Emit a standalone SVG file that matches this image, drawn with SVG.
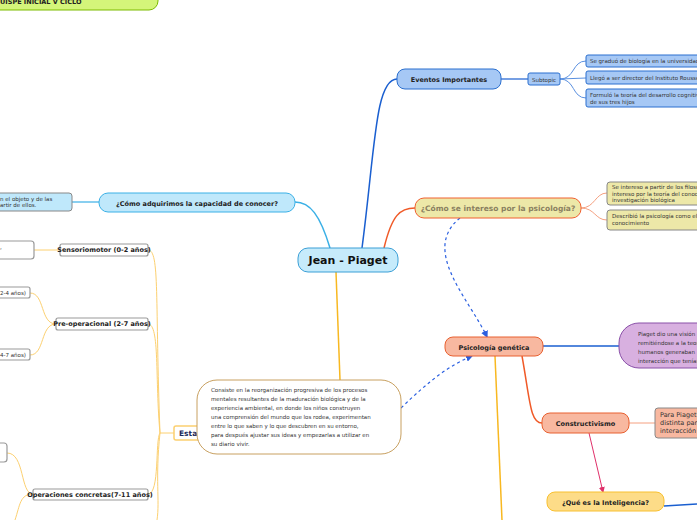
<svg xmlns="http://www.w3.org/2000/svg" width="697" height="520" viewBox="0 0 697 520">
<style>
text{font-family:"DejaVu Sans","Liberation Sans",sans-serif}
.b{font-weight:bold}
.s{font-size:5.5px;fill:#333}
.m{font-size:6.5px;fill:#222;font-weight:bold}
.w{fill:#fff;stroke:#999;stroke-width:1.2}
.c{fill:none}
</style>
<defs>
<marker id="a" markerWidth="6" markerHeight="6" refX="5" refY="3" orient="auto"><path d="M0,0L6,3L0,6z" fill="#2a5fe0"/></marker>
<marker id="p" markerWidth="6" markerHeight="6" refX="5" refY="3" orient="auto"><path d="M0,0L6,3L0,6z" fill="#e0306a"/></marker>
</defs>
<rect width="697" height="520" fill="#fff"/>
<g id="connectors" class="c">
<path d="M362,248C375,150 375,79 397,79" stroke="#1a5fd0" stroke-width="1.5"/>
<path d="M384,248C392,215 400,208 415,208" stroke="#f05a28" stroke-width="1.5"/>
<path d="M330,248C320,215 310,202 295,202" stroke="#3bb0e6" stroke-width="1.5"/>
<path d="M336,272L340,380" stroke="#f8b820" stroke-width="1.5"/>
<path d="M501,79L528,79" stroke="#1a5fd0" stroke-width="1.2"/>
<path d="M560,79C575,79 572,61 586,61M560,79L586,78M560,79C575,79 572,98 586,98" stroke="#5a90e0" stroke-width="1"/>
<path d="M581,208C595,208 595,193 607,193M581,208C595,208 595,220 607,220" stroke="#f5a080" stroke-width="1"/>
<path d="M99,202L72,202" stroke="#3bb0e6" stroke-width="1.2"/>
<path d="M460,218C420,250 470,300 487,337" stroke="#2a5fe0" stroke-width="1.2" stroke-dasharray="3,3" marker-end="url(#a)"/>
<path d="M401,408C430,380 450,365 472,356" stroke="#2a5fe0" stroke-width="1.2" stroke-dasharray="3,3" marker-end="url(#a)"/>
<path d="M543,346L619,346" stroke="#1a5fd0" stroke-width="1.5"/>
<path d="M522,356C530,400 530,423 542,423" stroke="#f05a28" stroke-width="1.5"/>
<path d="M495,356L502,520" stroke="#f8b820" stroke-width="1.5"/>
<path d="M629,423L655,423" stroke="#f5a080" stroke-width="1"/>
<path d="M589,433L603,492" stroke="#e0306a" stroke-width="1" marker-end="url(#p)"/>
<path d="M664,506L697,504" stroke="#1a5fd0" stroke-width="1.5"/>
<path d="M174,433L160,433M148,250C160,250 155,300 160,433M148,324C160,324 155,380 160,433M148,494C160,494 155,440 160,433M160,433C155,480 160,500 157,520" stroke="#fcd070" stroke-width="1"/>
<path d="M60,250L34,250M56,324C40,324 45,293 30,293M56,324C40,324 45,355 30,355M33,494C20,494 25,453 7,453M33,494C20,494 20,505 15,520" stroke="#fcd070" stroke-width="1"/>
</g>
<g id="n-top"><rect x="-10" y="-10" width="168" height="20" rx="9" fill="#d4f57a" stroke="#7cbb00"/><text x="0" y="4" class="m">UISPE INICIAL V CICLO</text></g>
<g id="n-jean"><rect x="298" y="248" width="100" height="24" rx="10" fill="#c6ebfb" stroke="#3b9fd6"/><text x="348" y="264" class="b" font-size="11" text-anchor="middle" fill="#111">Jean - Piaget</text></g>
<g id="n-eventos"><rect x="397" y="69" width="104" height="20" rx="8" fill="#a6c8f5" stroke="#2b6fcf"/><text x="449" y="82" class="m" text-anchor="middle" font-size="7.5">Eventos Importantes</text></g>
<g id="n-sub"><rect x="528" y="73" width="32" height="12" rx="2" fill="#a6c8f5" stroke="#2b6fcf"/><text x="544" y="81.5" class="s" text-anchor="middle" font-size="5.5">Subtopic</text></g>
<g id="n-e1"><rect x="586" y="55" width="120" height="12" rx="2" fill="#a6c8f5" stroke="#2b6fcf"/><text x="590" y="63" class="s">Se graduó de biología en la universidad</text></g>
<g id="n-e2"><rect x="586" y="71" width="120" height="13" rx="2" fill="#a6c8f5" stroke="#2b6fcf"/><text x="590" y="79.5" class="s">Llegó a ser director del Instituto Rousseau</text></g>
<g id="n-e3"><rect x="586" y="89" width="120" height="18" rx="2" fill="#a6c8f5" stroke="#2b6fcf"/><text x="590" y="97" class="s">Formuló la teoría del desarrollo cognitivo</text><text x="590" y="104" class="s">de sus tres hijos</text></g>
<g id="n-interes"><rect x="415" y="198" width="166" height="20" rx="9" fill="#ede8a8" stroke="#f06030"/><text x="498" y="211" class="b" font-size="7.5" text-anchor="middle" fill="#8a8060">¿Cómo se intereso por la psicología?</text></g>
<g id="n-i1"><rect x="607" y="182" width="100" height="23" rx="3" fill="#ede8a8" stroke="#888"/><text x="612" y="189" class="s">Se intereso a partir de los filosofos e</text><text x="612" y="195.5" class="s">intereso por la teoría del conocimiento</text><text x="612" y="202" class="s">investigación biológica</text></g>
<g id="n-i2"><rect x="607" y="210" width="100" height="20" rx="3" fill="#ede8a8" stroke="#888"/><text x="612" y="218" class="s">Describió la psicología como el</text><text x="612" y="225" class="s">conocimiento</text></g>
<g id="n-adq"><rect x="99" y="193" width="196" height="19" rx="9" fill="#bfe8fb" stroke="#3bb0e6"/><text x="197" y="205.5" class="m" font-size="7.5" text-anchor="middle">¿Cómo adquirimos la capacidad de conocer?</text></g>
<g id="n-adq1"><rect x="-10" y="193" width="82" height="18" rx="3" fill="#bfe8fb" stroke="#888"/><text x="0" y="200.5" class="s">n el objeto y de las</text><text x="0" y="207" class="s">artir de ellos.</text></g>
<g id="n-sens"><rect x="60" y="244" width="88" height="12" rx="2" class="w"/><text x="104" y="252.2" class="m" font-size="5.2" text-anchor="middle" fill="#555">Sensoriomotor (0-2 años)</text></g>
<g id="n-s1"><rect x="-10" y="241" width="44" height="18" rx="3" class="w"/><text x="0" y="249" class="s">,</text></g>
<g id="n-pre"><rect x="56" y="318" width="92" height="12" rx="2" class="w"/><text x="102" y="326.2" class="m" font-size="5.2" text-anchor="middle">Pre-operacional (2-7 años)</text></g>
<g id="n-p1"><rect x="-10" y="287" width="40" height="11" rx="2" class="w"/><text x="0" y="295" class="s">2-4 años)</text></g>
<g id="n-p2"><rect x="-10" y="349" width="40" height="11" rx="2" class="w"/><text x="0" y="357" class="s">4-7 años)</text></g>
<g id="n-op"><rect x="33" y="489" width="115" height="11" rx="2" class="w"/><text x="90" y="496.8" class="m" font-size="5.2" text-anchor="middle">Operaciones concretas(7-11 años)</text></g>
<g id="n-o1"><rect x="-10" y="443" width="17" height="19" rx="3" class="w"/></g>
<g id="n-esta"><rect x="174" y="426" width="30" height="14" rx="2" fill="#fff" stroke="#fcd070" stroke-width="1.5"/><text x="179" y="436" class="b" font-size="7.5" fill="#1a2a5a">Esta</text></g>
<g id="n-desc"><rect x="197" y="380" width="204" height="74" rx="20" fill="#fff" stroke="#c8a060"/>
<g class="s" fill="#333"><text x="211" y="392">Consiste en la reorganización progresiva de los procesos</text><text x="211" y="401">mentales resultantes de la maduración biológica y de la</text><text x="211" y="410">experiencia ambiental, en donde los niños construyen</text><text x="211" y="419">una comprensión del mundo que los rodea, experimentan</text><text x="211" y="428">entre lo que saben y lo que descubren en su entorno,</text><text x="211" y="437">para después ajustar sus ideas y empezarlas a utilizar en</text><text x="211" y="446">su diario vivir.</text></g></g>
<g id="n-psi"><rect x="445" y="337" width="98" height="19" rx="8" fill="#f8b8a0" stroke="#e86030"/><text x="494" y="349.5" class="m" text-anchor="middle">Psicología genética</text></g>
<g id="n-purp"><rect x="619" y="323" width="100" height="45" rx="20" fill="#d8b0e0" stroke="#8a50a8"/><g class="s" fill="#666"><text x="638" y="336">Piaget dio una visión</text><text x="638" y="345">remitiéndose a la teoría</text><text x="638" y="354">humanos generaban</text><text x="638" y="363">interacción que tenían</text></g></g>
<g id="n-cons"><rect x="542" y="413" width="87" height="20" rx="8" fill="#f8b8a0" stroke="#e86030"/><text x="585.5" y="426" class="m" font-size="7" text-anchor="middle">Constructivismo</text></g>
<g id="n-para"><rect x="655" y="408" width="55" height="30" rx="3" fill="#f8b8a0" stroke="#888"/><g font-size="6.5" fill="#333"><text x="660" y="417">Para Piaget</text><text x="660" y="425">distinta para</text><text x="660" y="433">interacción</text></g></g>
<g id="n-intel"><rect x="547" y="492" width="117" height="19" rx="8" fill="#fddc88" stroke="#f8c030"/><text x="605.5" y="504.5" class="m" font-size="7" text-anchor="middle">¿Qué es la Inteligencia?</text></g>
</svg>
